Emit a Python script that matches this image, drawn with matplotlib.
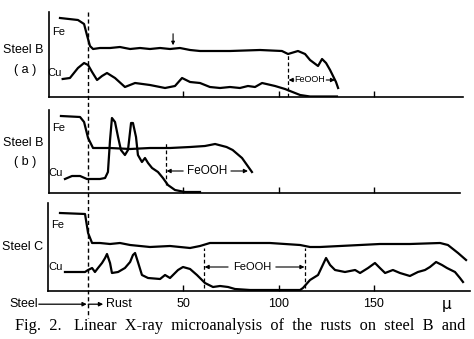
import numpy as np
import matplotlib.pyplot as plt
from matplotlib.lines import Line2D

# distance in micron (0 = steel/rust interface), intensity in arbitrary units
fe_a_x = [-14.4, -5.0, -1.8, -0.3, 1.3, 2.9, 6.5, 11.8, 17.0, 19.6, 22.3, 27.5, 32.7, 38.0,
          43.2, 48.4, 53.7, 58.9, 74.6, 90.3, 101.8, 105.0, 110.2, 113.9, 116.5, 120.7,
          122.8, 124.9, 127.0, 130.1, 131.2]
fe_a_y = [79, 77, 73, 62, 51, 48, 49, 49, 50, 49, 48, 49, 48, 49,
          48, 49, 47, 46, 46, 47, 46, 43, 46, 43, 37, 31,
          38, 34, 27, 15, 9]
cu_a_x = [-13.0, -9.2, -5.0, -1.8, 0.3, 2.4, 5.0, 7.6, 10.2, 14.4, 19.6, 24.9, 32.7, 40.6,
          45.8, 49.5, 53.7, 58.9, 64.1, 69.4, 74.6, 79.8, 84.0, 87.7, 91.4, 98.2, 103.4,
          111.3, 116.5, 130.6]
cu_a_y = [18, 19, 29, 34, 32, 25, 17, 21, 24, 19, 10, 14, 12, 9,
          11, 19, 15, 14, 10, 9, 10, 9, 11, 10, 14, 11, 8,
          2, 0.5, 0.5]

fe_b_x = [-13.9, -3.9, -1.8, 0.3, 2.9, 11.8, 22.3, 32.7, 43.2, 53.7, 61.5, 66.8, 72.8,
          76.0, 80.9, 86.1]
fe_b_y = [77, 76, 71, 55, 45, 45, 44, 45, 45, 46, 47, 49, 46,
          43, 35, 21]
cu_b_x = [-11.8, -8.1, -3.9, -0.3, 6.5, 9.2, 10.7, 11.8, 12.8, 14.4, 16.0, 17.5, 19.6,
          21.2, 22.8, 23.8, 25.4, 26.4, 28.5, 30.1, 31.7, 33.8, 36.9, 39.5, 42.1, 45.8,
          51.0, 58.9]
cu_b_y = [14, 17, 17, 14, 14, 15, 21, 53, 75, 71, 56, 43, 38,
          43, 70, 70, 56, 38, 31, 35, 30, 25, 21, 15, 8, 3,
          1, 1]

fe_c_x = [-14.4, -1.3, 0.3, 2.4, 6.5, 11.8, 17.0, 22.3, 32.7, 43.2, 53.7, 58.9, 64.1,
          79.8, 95.5, 111.3, 116.5, 121.7, 132.2, 142.7, 153.1, 168.8, 184.6, 188.7,
          194.0, 198.2]
fe_c_y = [78, 77, 58, 48, 48, 47, 48, 46, 44, 45, 43, 45, 48,
          48, 48, 46, 44, 44, 45, 46, 47, 47, 48, 46,
          38, 31]
cu_c_x = [-11.8, -6.5, -1.3, 0.3, 2.4, 3.9, 5.5, 7.6, 9.2, 10.2, 11.8, 12.8, 16.0, 19.6,
          22.3, 23.8, 24.9, 26.4, 28.5, 31.7, 38.0, 40.6, 43.2, 47.4, 50.0, 53.7, 57.3,
          61.5, 65.7, 69.4, 73.6, 77.2, 85.1, 111.3, 112.8, 116.5, 120.7, 124.9, 127.0,
          129.6, 134.8, 140.1, 142.7, 146.9, 150.5, 153.1, 155.8, 159.9, 163.6, 168.8,
          173.0, 176.7, 179.3, 182.5, 185.6, 188.2, 192.4, 195.0, 196.6]
cu_c_y = [19, 19, 19, 21, 23, 19, 23, 28, 33, 37, 28, 18, 19, 23,
          29, 36, 38, 29, 16, 13, 12, 16, 13, 21, 24, 22, 16,
          8, 4, 5, 4, 2, 1, 1, 3, 11, 16, 33, 26,
          21, 19, 21, 18, 23, 28, 23, 18, 21, 18, 15,
          19, 21, 24, 29, 26, 23, 19, 13, 9]

# FeOOH zone boundaries (micron)
feooh_a = [105.0]
feooh_b = [41.1]
feooh_c = [61.0, 113.9]

tick_pos = [50, 100, 150]
tick_lab = ["50", "100", "150"]

W, H = 474, 339
fig = plt.figure(figsize=(W / 100, H / 100), dpi=100)
sans = "Liberation Sans"


def px_axes(L, R, T, B, ytop):
    ax = fig.add_axes([L / W, 1 - B / H, (R - L) / W, (B - T) / H])
    ax.set_xlim((L - 87.5) / 1.91, (R - 87.5) / 1.91)
    ax.set_ylim(0, ytop)
    ax.patch.set_alpha(0)
    for s in ["top", "right"]:
        ax.spines[s].set_visible(False)
    for s in ["left", "bottom"]:
        ax.spines[s].set_linewidth(1.2)
    ax.set_yticks([])
    ax.set_xticks(tick_pos)
    ax.tick_params(axis="x", direction="in", length=4, width=1, labelbottom=False)
    return ax


def feooh_label(ax, x, y, x0, x1, fs, gap):
    ax.text(x, y, "FeOOH", fontsize=fs, family=sans, ha="center", va="center")
    arr = dict(arrowstyle="-|>", lw=0.8, color="k", mutation_scale=6, shrinkA=0, shrinkB=0)
    ax.annotate("", xy=(x0, y), xytext=(x - gap, y), arrowprops=arr)
    ax.annotate("", xy=(x1, y), xytext=(x + gap, y), arrowprops=arr)


lw = 1.6
ax_a = px_axes(49, 463, 12, 97, 85)
ax_a.plot(fe_a_x, fe_a_y, color="k", lw=lw)
ax_a.plot(cu_a_x, cu_a_y, color="k", lw=lw)
ax_a.vlines(feooh_a, 0, 42, colors="k", linestyles=(0, (3, 2)), lw=0.9)
feooh_label(ax_a, 116.5, 17, 105.3, 129.6, 6.5, 8.5)
ax_a.annotate("", xy=(44.8, 49), xytext=(44.8, 66),
              arrowprops=dict(arrowstyle="-|>", lw=0.8, color="k", mutation_scale=5))
ax_a.text(-15.0, 65, "Fe", fontsize=8, family=sans, ha="center", va="center")
ax_a.text(-17.5, 24, "Cu", fontsize=8, family=sans, ha="center", va="center")

ax_b = px_axes(49, 460, 110, 193, 83)
ax_b.plot(fe_b_x, fe_b_y, color="k", lw=lw)
ax_b.plot(cu_b_x, cu_b_y, color="k", lw=lw)
ax_b.vlines(feooh_b, 8, 50, colors="k", linestyles=(0, (3, 2)), lw=0.9)
feooh_label(ax_b, 62.6, 22, 41.4, 84.0, 8.5, 12.5)
ax_b.text(-15.0, 65, "Fe", fontsize=8, family=sans, ha="center", va="center")
ax_b.text(-16.5, 20, "Cu", fontsize=8, family=sans, ha="center", va="center")

ax_c = px_axes(48, 470, 203, 291, 88)
ax_c.plot(fe_c_x, fe_c_y, color="k", lw=lw)
ax_c.plot(cu_c_x, cu_c_y, color="k", lw=lw)
ax_c.vlines(feooh_c, 3, 43, colors="k", linestyles=(0, (3, 2)), lw=0.9)
feooh_label(ax_c, 86.1, 24, 61.3, 113.6, 8, 12.5)
ax_c.text(-15.5, 66, "Fe", fontsize=8, family=sans, ha="center", va="center")
ax_c.text(-16.5, 24, "Cu", fontsize=8, family=sans, ha="center", va="center")
ax_c.tick_params(axis="x", labelbottom=True, pad=5, labelsize=9)
ax_c.set_xticklabels(tick_lab, family=sans)

# labels below the bottom axis
tr = ax_c.get_xaxis_transform()
ax_c.text(188.2, -0.15, "\u03bc", transform=tr, fontsize=11, family="DejaVu Sans",
          ha="center", va="center")
ax_c.text(-33.5, -0.15, "Steel", transform=tr, fontsize=9, family=sans,
          ha="center", va="center", clip_on=False)
ax_c.text(16.2, -0.15, "Rust", transform=tr, fontsize=9, family=sans,
          ha="center", va="center", clip_on=False)
harr = dict(arrowstyle="-|>", lw=0.9, color="k", mutation_scale=6, shrinkA=0, shrinkB=0)
ax_c.annotate("", xy=(-0.4, -0.15), xytext=(-25.5, -0.15), xycoords=tr,
              textcoords=tr, arrowprops=harr, annotation_clip=False)
ax_c.annotate("", xy=(8.2, -0.15), xytext=(0.4, -0.15), xycoords=tr,
              textcoords=tr, arrowprops=harr, annotation_clip=False)

# sample names on the left
fig.text(23 / W, 1 - 50 / H, "Steel B", fontsize=9, family=sans, ha="center", va="center")
fig.text(25 / W, 1 - 70 / H, "( a )", fontsize=9, family=sans, ha="center", va="center")
fig.text(23 / W, 1 - 143 / H, "Steel B", fontsize=9, family=sans, ha="center", va="center")
fig.text(25 / W, 1 - 162 / H, "( b )", fontsize=9, family=sans, ha="center", va="center")
fig.text(23 / W, 1 - 247 / H, "Steel C", fontsize=9, family=sans, ha="center", va="center")

# steel/rust interface line through all panels (x = 0 micron)
x0_fig = fig.transFigure.inverted().transform(ax_c.transData.transform((0, 0)))[0]
fig.add_artist(Line2D([x0_fig, x0_fig], [1 - 12 / H, 1 - 318 / H], transform=fig.transFigure,
                      color="k", lw=1.0, linestyle=(0, (3, 2))))

fig.text(15 / W, 1 - 326 / H,
         "Fig.  2.   Linear  X-ray  microanalysis  of  the  rusts  on  steel  B  and",
         fontsize=11.8, family="Liberation Serif", ha="left", va="center")

fig.savefig("out.png", dpi=100)
